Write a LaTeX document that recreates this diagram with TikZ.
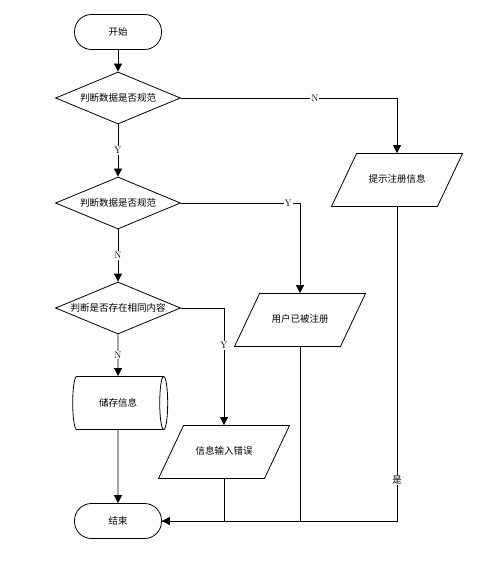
\documentclass[tikz,border=0pt]{standalone}
\usepackage{fontspec}
\newfontfamily\cjk{Noto Sans CJK SC}
\usetikzlibrary{shapes.geometric, arrows.meta, positioning}

\tikzset{
    terminal/.style={draw, rounded corners=17pt, minimum width=87pt, minimum height=35pt,
        inner sep=0pt, font=\cjk\fontsize{9.5}{11}\selectfont},
    decision/.style={draw, diamond, minimum width=125pt, minimum height=52pt,
        inner sep=0pt, font=\cjk\fontsize{9.5}{11}\selectfont},
    io/.style={draw, trapezium, trapezium left angle=64.7, trapezium right angle=115.3,
        trapezium stretches body, minimum width=131pt, text height=7pt, text depth=2pt,
        inner xsep=0pt, inner ysep=22pt, font=\cjk\fontsize{9.5}{11}\selectfont},
    store/.style={draw, cylinder, aspect=0.9, minimum width=53pt, minimum height=95pt,
        inner sep=0pt, font=\cjk\fontsize{9.5}{11}\selectfont},
    tag/.style={fill=white, inner sep=1pt, font=\fontsize{9.5}{11}\selectfont}
}

\begin{document}
\begin{tikzpicture}[x=1pt, y=-1pt, line width=0.8pt, >={Triangle[length=8pt, width=8pt]}]
    \useasboundingbox (0,0) rectangle (497,561);

    % the main column
    \node[terminal] (start) at (118,32) {开始};
    \node[decision] (check1) at (118,98) {\makebox[0pt]{判断数据是否规范}};
    \node[decision] (check2) at (118,203) {\makebox[0pt]{判断数据是否规范}};
    \node[decision] (check3) at (118,308) {\makebox[0pt]{判断是否存在相同内容}};
    \node[store] (save) at (118,403) {储存信息};
    \node[terminal] (stop) at (118,521) {结束};

    % the outputs
    \node[io] (hint) at (397,180) {提示注册信息};
    \node[io] (taken) at (300,320) {用户已被注册};
    \node[io] (wrong) at (224,452) {信息输入错误};

    % the arrows
    \draw[->] (start) -- (check1);
    \draw[->] (check1.east) -| node[tag, pos=0.31] {N} (hint.north);
    \draw[->] (check1) -- node[tag] {Y} (check2);
    \draw[->] (check2.east) -| node[tag, pos=0.45] {Y} (taken.north);
    \draw[->] (check2) -- node[tag] {N} (check3);
    \draw[->] (check3.east) -| node[tag, pos=0.66] {Y} (wrong.north);
    \draw[->] (check3) -- node[tag] {N} (save);
    \draw[->] (save) -- (stop);

    % back to the end
    \draw (wrong.south) |- (stop.east);
    \draw (taken.south) |- (stop.east);
    \draw[->] (hint.south) |- node[tag, pos=0.435] {\cjk 是} (stop.east);
\end{tikzpicture}
\end{document}
